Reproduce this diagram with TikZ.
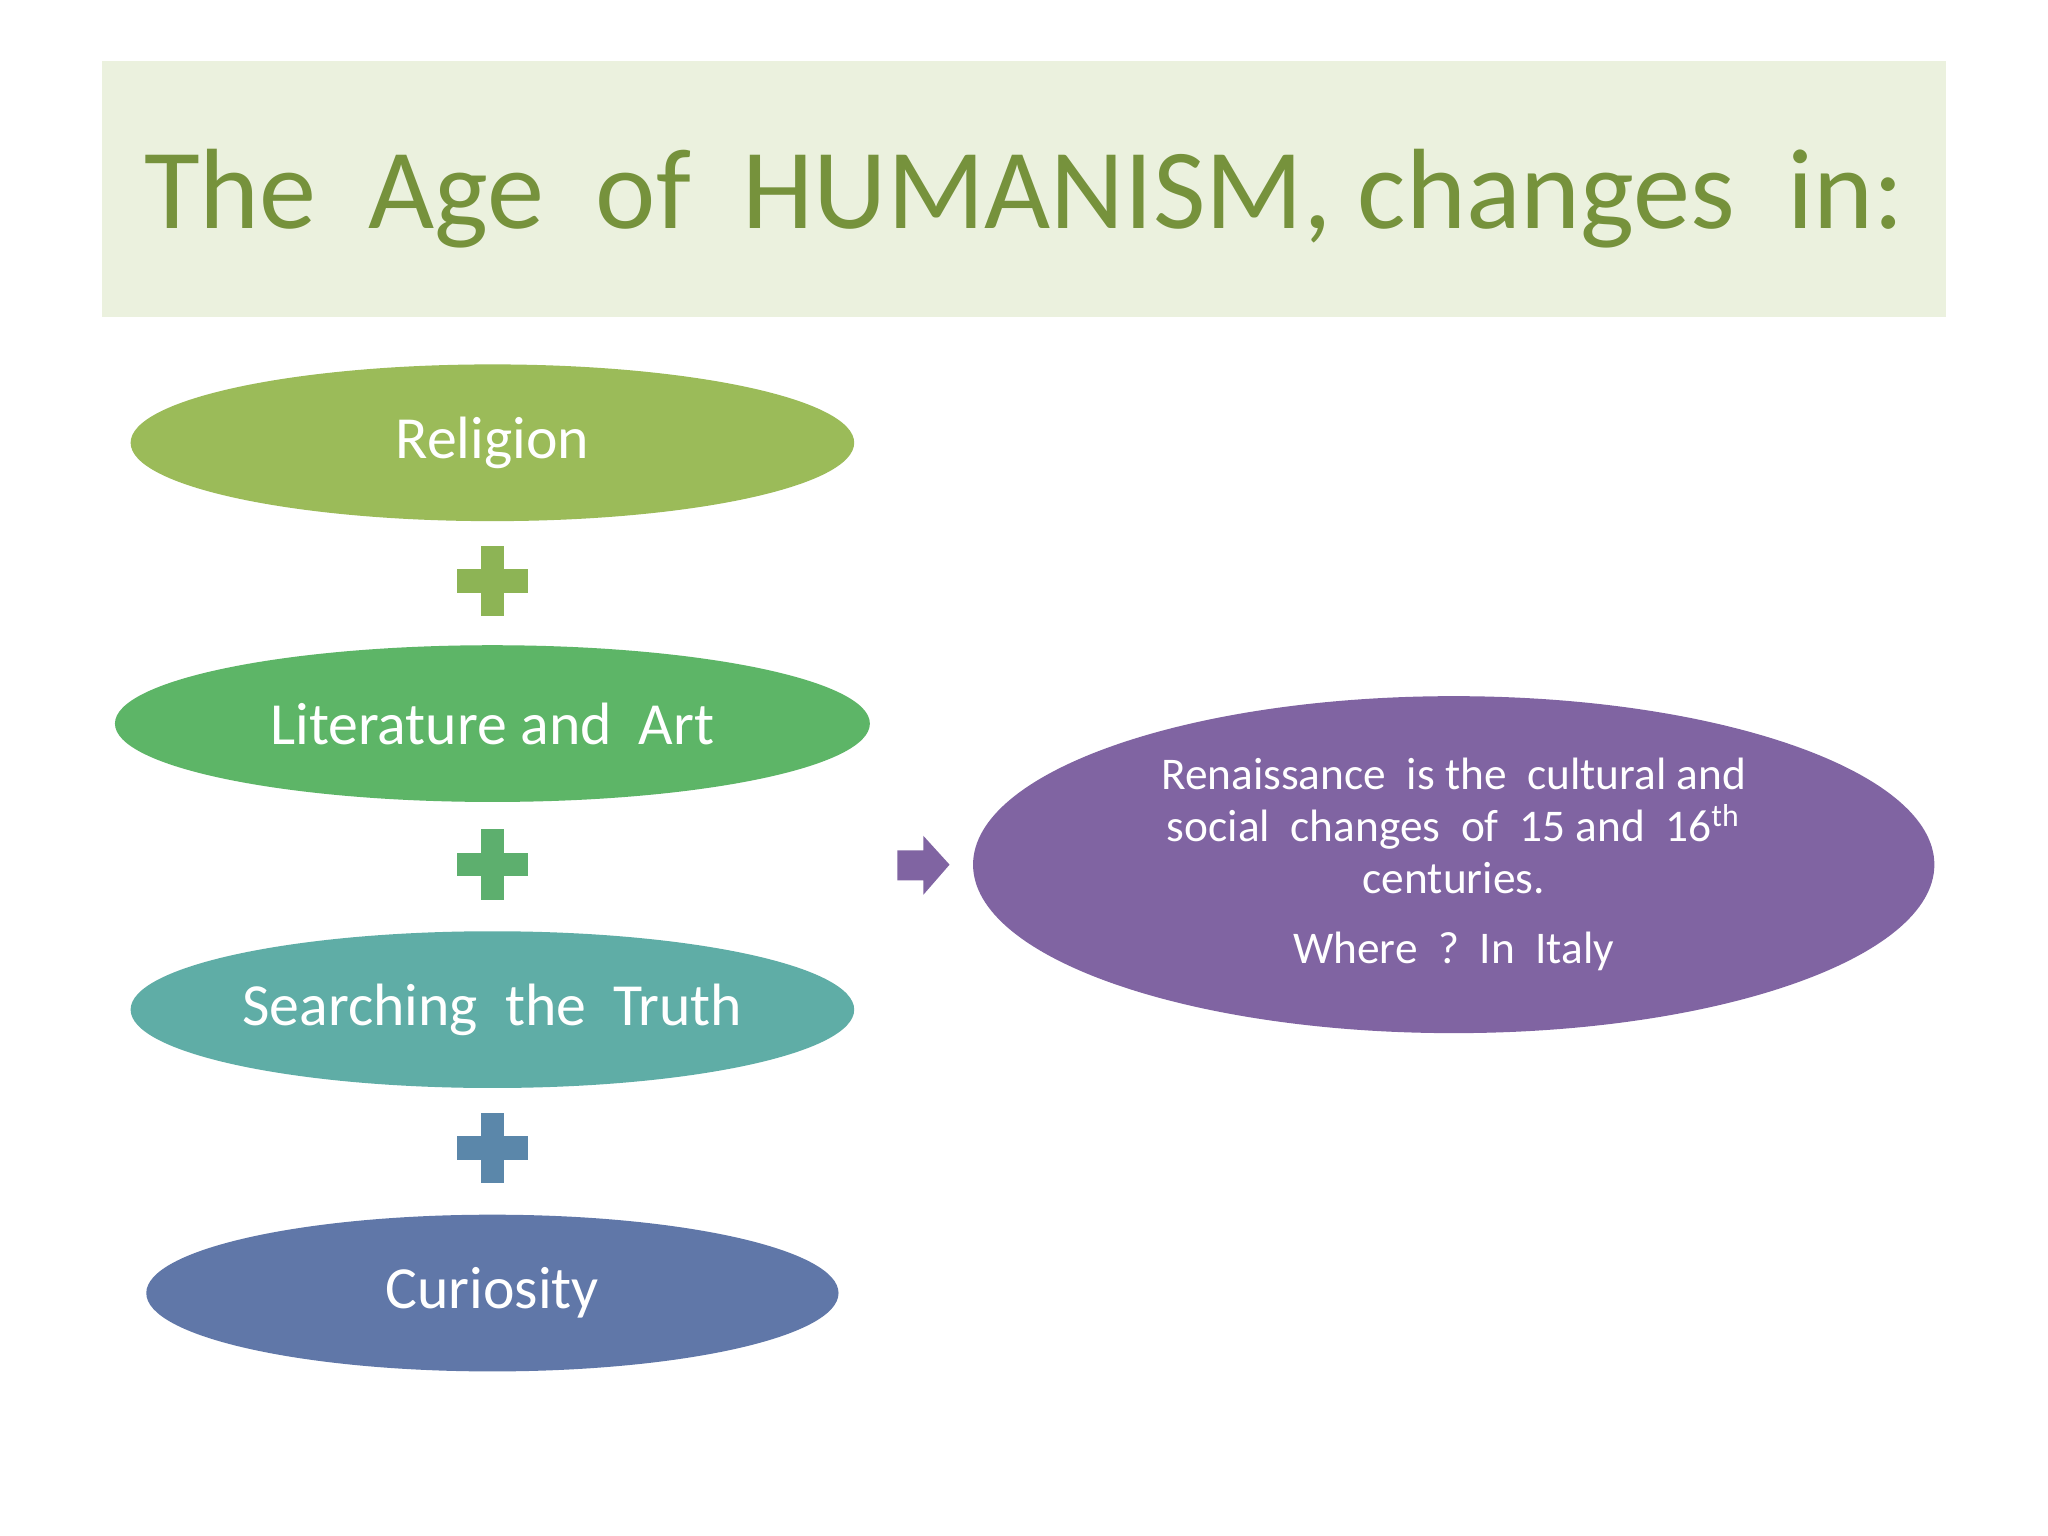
\documentclass[tikz,border=0pt]{standalone}
\usepackage{fontspec}
\setmainfont{Carlito}
\usetikzlibrary{shapes.geometric}
\definecolor{bannerbg}{HTML}{EBF1DE}
\definecolor{titlec}{HTML}{76923C}
\definecolor{c1}{HTML}{9BBB59}
\definecolor{c2}{HTML}{5DB567}
\definecolor{c3}{HTML}{5FADA6}
\definecolor{c4}{HTML}{6077A8}
\definecolor{p1}{HTML}{8DB455}
\definecolor{p2}{HTML}{5DAF6E}
\definecolor{p3}{HTML}{5B87AA}
\definecolor{purp}{HTML}{8064A2}
\newlength{\myu}
\setlength{\myu}{0.013061cm}
\tikzset{
  ell/.style={ellipse, minimum width=#1, minimum height=120\myu, inner sep=0pt, text=white, font=\fontsize{17}{20}\selectfont},
}
\newcommand{\plusat}[3]{\fill[#3] (#1-27,#2-9) rectangle (#1+27,#2+9);
  \fill[#3] (#1-9,#2-27) rectangle (#1+9,#2+27);}
\begin{document}
\begin{tikzpicture}[x=0.013061cm,y=-0.013061cm]
\useasboundingbox (0,0) rectangle (1568,1176);
\fill[white] (0,0) rectangle (1568,1176);
\fill[bannerbg] (78,47) rectangle (1490,243);
\node[text=titlec, font=\fontsize{32.5}{38}\selectfont] (title) at (784,152) {The\ \ Age\ \ of\ \ HUMANISM, changes\ \ in:};
\node[ell=554\myu, fill=c1] (rel) at (377,339) {Religion};
\node[ell=578\myu, fill=c2] (lit) at (377,554) {Literature and\ \ Art};
\node[ell=554\myu, fill=c3] (sea) at (377,773) {Searching\ \ the\ \ Truth};
\node[ell=530\myu, fill=c4] (cur) at (377,990) {Curiosity};
\plusat{377}{445}{p1}
\plusat{377}{662}{p2}
\plusat{377}{879}{p3}
\fill[purp] (687,651) -- (707,651) -- (707,640) -- (727,662) -- (707,685) -- (707,674) -- (687,674) -- cycle;
\node[ellipse, minimum width=736\myu, minimum height=258\myu, inner sep=0pt, fill=purp, text=white, align=center, font=\fontsize{12.9}{14.8}\selectfont] (ren) at (1113,662)
 {Renaissance\ \ is the\ \ cultural and\\ social\ \ changes\ \ of\ \ 15 and\ \ 16\textsuperscript{th}\\ centuries.\\[5pt] Where\ \ ?\ \ In\ \ Italy};
\end{tikzpicture}
\end{document}
